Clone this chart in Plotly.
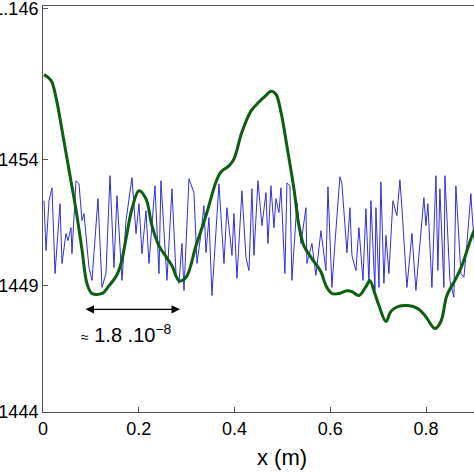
import plotly.graph_objects as go

# Fast-varying (blue) profile: vertices
blue_x = [0.0021, 0.0063, 0.0125, 0.0188, 0.0251, 0.0355, 0.0397, 0.0480, 0.0522, 0.0585,
          0.0605, 0.0689, 0.0752, 0.0814, 0.0856, 0.0960, 0.1023, 0.1148, 0.1232, 0.1315,
          0.1399, 0.1482, 0.1545, 0.1649, 0.1733, 0.1858, 0.1942, 0.2004, 0.2067, 0.2150,
          0.2213, 0.2338, 0.2422, 0.2463, 0.2589, 0.2693, 0.2777, 0.2839, 0.2902, 0.2944,
          0.3048, 0.3152, 0.3215, 0.3299, 0.3361, 0.3403, 0.3466, 0.3528, 0.3674, 0.3779,
          0.3841, 0.3946, 0.3987, 0.4050, 0.4154, 0.4238, 0.4301, 0.4363, 0.4405, 0.4489,
          0.4572, 0.4656, 0.4697, 0.4760, 0.4823, 0.4864, 0.4927, 0.4969, 0.5052, 0.5094,
          0.5157, 0.5198, 0.5303, 0.5386, 0.5491, 0.5511, 0.5616, 0.5699, 0.5804, 0.5908,
          0.5950, 0.6033, 0.6096, 0.6200, 0.6242, 0.6347, 0.6409, 0.6451, 0.6534, 0.6597,
          0.6681, 0.6743, 0.6806, 0.6848, 0.6931, 0.6952, 0.7015, 0.7056, 0.7119, 0.7161,
          0.7223, 0.7307, 0.7390, 0.7453, 0.7495, 0.7599, 0.7704, 0.7787, 0.7954, 0.7996,
          0.8038, 0.8121, 0.8205, 0.8246, 0.8288, 0.8372, 0.8393, 0.8497, 0.8580, 0.8622,
          0.8727, 0.8789, 0.8852, 0.8935, 0.8956, 0.9019]
blue_y = [1.145238, 1.145040, 1.145238, 1.145289, 1.144949, 1.145226, 1.144989, 1.145108, 1.145080, 1.145131,
          1.145028, 1.145317, 1.145305, 1.145159, 1.145187, 1.144973, 1.144922, 1.145246, 1.144894, 1.144949,
          1.145337, 1.144973, 1.145258, 1.144922, 1.145159, 1.145329, 1.145108, 1.145226, 1.145028, 1.145198,
          1.144989, 1.145297, 1.144949, 1.145317, 1.144922, 1.145285, 1.144949, 1.144910, 1.145068, 1.144882,
          1.145325, 1.145270, 1.144989, 1.145108, 1.145218, 1.145032, 1.145171, 1.144862, 1.145305, 1.144989,
          1.145210, 1.145021, 1.145187, 1.144930, 1.145277, 1.145013, 1.144961, 1.145285, 1.145021, 1.145317,
          1.145139, 1.145270, 1.145068, 1.145297, 1.145131, 1.145246, 1.145191, 1.145289, 1.144949, 1.145309,
          1.145297, 1.144922, 1.145230, 1.145068, 1.145210, 1.144989, 1.145068, 1.144942, 1.145119, 1.144961,
          1.145293, 1.144894, 1.145068, 1.145333, 1.145305, 1.145032, 1.145210, 1.145021, 1.144961, 1.145131,
          1.144922, 1.145206, 1.144910, 1.145238, 1.144882, 1.145210, 1.144894, 1.145313, 1.144910, 1.145100,
          1.144949, 1.145238, 1.145179, 1.145321, 1.145210, 1.144894, 1.145108, 1.144882, 1.145250, 1.145139,
          1.145226, 1.144894, 1.145337, 1.144961, 1.145285, 1.144894, 1.145337, 1.144922, 1.144855, 1.145297,
          1.144949, 1.144934, 1.145068, 1.145266, 1.145198, 1.145040]

# Smooth (green) profile
green_x = [0.0021, 0.0167, 0.0271, 0.0397, 0.0543, 0.0689, 0.0814, 0.0919, 0.1023, 0.1232,
           0.1378, 0.1524, 0.1628, 0.1733, 0.1858, 0.2004, 0.2150, 0.2276, 0.2422, 0.2568,
           0.2693, 0.2839, 0.2985, 0.3194, 0.3403, 0.3612, 0.3716, 0.3883, 0.3987, 0.4154,
           0.4342, 0.4509, 0.4656, 0.4760, 0.4864, 0.4969, 0.5094, 0.5240, 0.5344, 0.5449,
           0.5616, 0.5804, 0.5908, 0.6033, 0.6180, 0.6347, 0.6451, 0.6597, 0.6743, 0.6827,
           0.6910, 0.7015, 0.7161, 0.7265, 0.7411, 0.7620, 0.7829, 0.7975, 0.8184, 0.8309,
           0.8434, 0.8622, 0.8747, 0.8956, 0.9019]
green_y = [1.145738, 1.145715, 1.145648, 1.145518, 1.145360, 1.145202, 1.145044, 1.144909, 1.144870, 1.144870,
           1.144901, 1.144937, 1.144988, 1.145087, 1.145206, 1.145277, 1.145245, 1.145138, 1.145059, 1.145016,
           1.144980, 1.144921, 1.144933, 1.145059, 1.145178, 1.145312, 1.145352, 1.145376, 1.145403, 1.145510,
           1.145593, 1.145629, 1.145656, 1.145672, 1.145660, 1.145589, 1.145454, 1.145285, 1.145139, 1.145059,
           1.145008, 1.144956, 1.144901, 1.144870, 1.144870, 1.144881, 1.144877, 1.144862, 1.144897, 1.144921,
           1.144881, 1.144822, 1.144759, 1.144799, 1.144818, 1.144822, 1.144810, 1.144783, 1.144731, 1.144759,
           1.144862, 1.144929, 1.144980, 1.145098, 1.145126]

x_ticks = [0, 0.2, 0.4, 0.6, 0.8]
x_tick_text = ["0", "0.2", "0.4", "0.6", "0.8"]
y_ticks = [1.1444, 1.1449, 1.1454, 1.146]
y_tick_text = ["1.1444", "1.1449", "1.1454", "1.146"]

FONT = "Liberation Sans, Arial, Helvetica, sans-serif"

fig = go.Figure()
fig.add_trace(go.Scatter(x=blue_x, y=blue_y, mode="lines",
                         line=dict(color="#3030d8", width=1), showlegend=False))
fig.add_trace(go.Scatter(x=green_x, y=green_y, mode="lines", line_shape="spline",
                         line=dict(color="#0c5e10", width=3), showlegend=False))

# double-headed arrow
fig.add_annotation(x=0.2860, y=1.144807, ax=0.0856, ay=1.144807,
                   xref="x", yref="y", axref="x", ayref="y",
                   text="", showarrow=True, arrowhead=2, startarrowhead=2,
                   arrowside="end+start", arrowsize=1.3, arrowwidth=1.3, arrowcolor="black")
fig.add_annotation(x=0.175, y=1.144712, xref="x", yref="y", showarrow=False,
                   text="<span style='font-size:14px'>≈</span> 1.8 .10<sup>−8</sup>",
                   font=dict(family=FONT, size=20, color="black"))
# axis title (centred on the full, uncropped axis)
fig.add_annotation(x=0.5, y=-0.113, xref="x", yref="paper", showarrow=False,
                   text="x (m)", yanchor="middle",
                   font=dict(family=FONT, size=22, color="black"))

fig.update_layout(
    width=474, height=474,
    margin=dict(l=43, r=0, t=6, b=62, autoexpand=False),
    paper_bgcolor="white", plot_bgcolor="white",
    font=dict(family=FONT, size=18, color="black"),
    xaxis=dict(range=[0, 0.9], tickvals=x_ticks, ticktext=x_tick_text,
               showline=True, linecolor="#555", linewidth=1, mirror=True,
               ticks="inside", ticklen=5, tickcolor="#555",
               showgrid=False, zeroline=False, automargin=False),
    yaxis=dict(range=[1.1444, 1.14601], tickvals=y_ticks, ticktext=y_tick_text,
               showline=True, linecolor="#555", linewidth=1, mirror=False,
               ticks="inside", ticklen=5, tickcolor="#555", ticklabeloverflow="allow",
               showgrid=False, zeroline=False, automargin=False),
)

fig.write_html("out.html")
